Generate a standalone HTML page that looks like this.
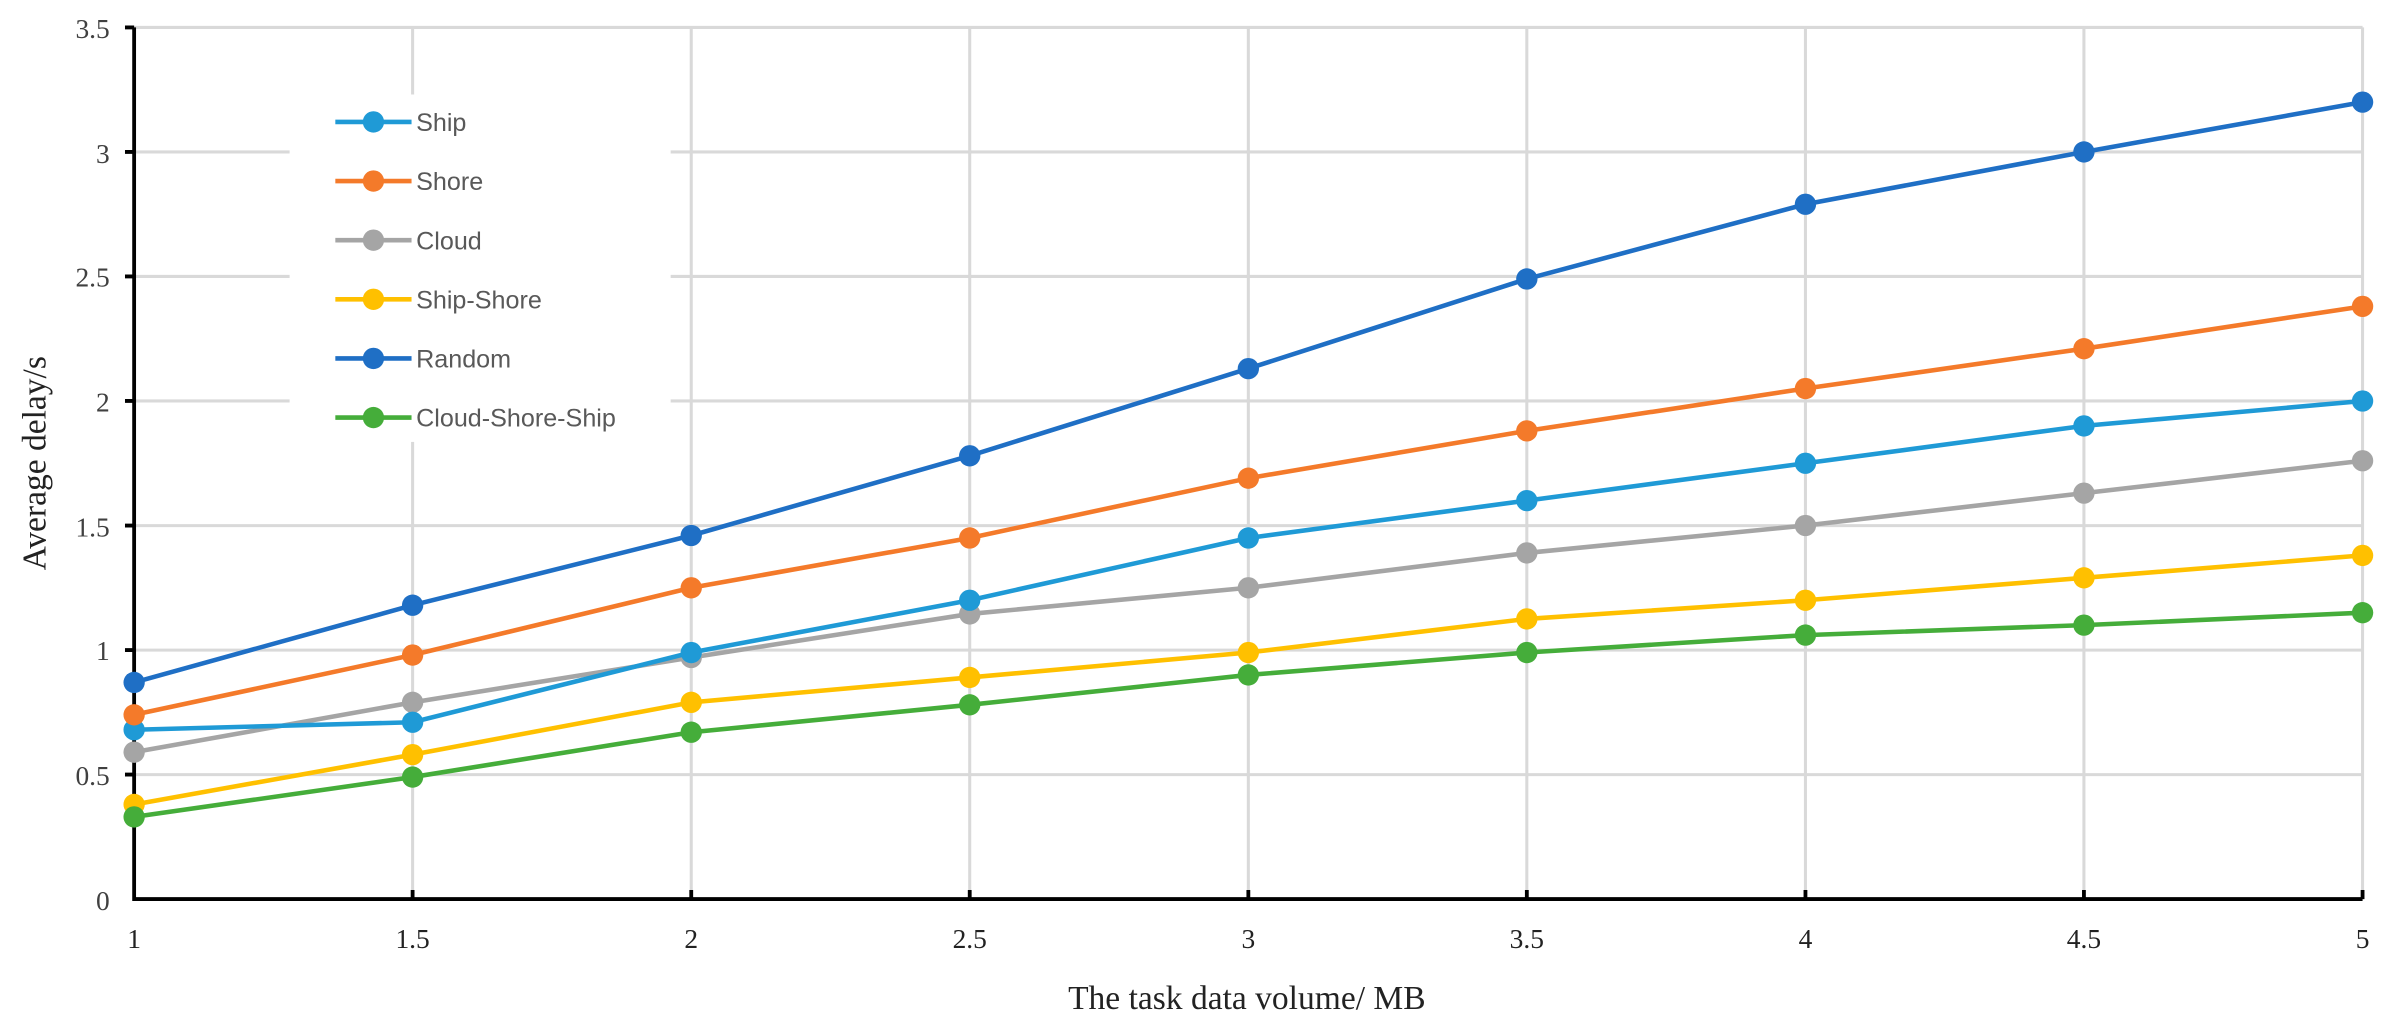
<!DOCTYPE html>
<html><head><style>html,body{margin:0;padding:0;background:#fff;}svg{display:block}</style></head>
<body>
<svg width="2390" height="1021" viewBox="0 0 1568 670" preserveAspectRatio="none" xmlns="http://www.w3.org/2000/svg">
<rect width="1568" height="670" fill="#fff"/>
<g stroke="#d9d9d9" stroke-width="2" fill="none">
<path d="M88 18H1550M88 99.7H1550M88 181.4H1550M88 263.1H1550M88 344.9H1550M88 426.6H1550M88 508.3H1550"/>
<path d="M270.7 18V590M453.5 18V590M636.2 18V590M819 18V590M1001.7 18V590M1184.5 18V590M1367.2 18V590M1550 18V590"/>
</g>
<rect x="190" y="62" width="250" height="228" fill="#fff"/>
<g stroke="#000" stroke-width="2.5" fill="none">
<path d="M88 18V590H1550"/>
<path d="M82 18H88M82 99.7H88M82 181.4H88M82 263.1H88M82 344.9H88M82 426.6H88M82 508.3H88"/>
<path d="M270.7 590V584M453.5 590V584M636.2 590V584M819 590V584M1001.7 590V584M1184.5 590V584M1367.2 590V584M1550 590V584"/>
</g>
<g font-family="Liberation Serif, serif" font-size="18" fill="#404040" text-anchor="end">
<text x="72" y="597">0</text><text x="72" y="515">0.5</text><text x="72" y="433">1</text><text x="72" y="352">1.5</text><text x="72" y="270">2</text><text x="72" y="188">2.5</text><text x="72" y="107">3</text><text x="72" y="25">3.5</text>
</g>
<g font-family="Liberation Serif, serif" font-size="18" fill="#222" text-anchor="middle">
<text x="88" y="622">1</text><text x="270.7" y="622">1.5</text><text x="453.5" y="622">2</text><text x="636.2" y="622">2.5</text><text x="819" y="622">3</text><text x="1001.7" y="622">3.5</text><text x="1184.5" y="622">4</text><text x="1367.2" y="622">4.5</text><text x="1550" y="622">5</text>
</g>
<text x="818" y="662" font-family="Liberation Serif, serif" font-size="22" text-anchor="middle" fill="#222">The task data volume/ MB</text>
<text transform="translate(30,304) rotate(-90)" font-family="Liberation Serif, serif" font-size="22" text-anchor="middle" fill="#222">Average delay/s</text>
<g id="series" stroke-width="3" fill="none"></g>
<g id="legend" font-family="Liberation Sans, sans-serif" font-size="16.5" fill="#595959"></g>
<script>
var xs=[88,270.7,453.5,636.2,819,1001.7,1184.5,1367.2,1550];
function Y(v){return 590-v*163.43;}
var S=[
["Ship","#1f9ad6",[0.68,0.71,0.99,1.2,1.45,1.6,1.75,1.9,2.0]],
["Shore","#f47a2a",[0.74,0.98,1.25,1.45,1.69,1.88,2.05,2.21,2.38]],
["Cloud","#a5a5a5",[0.59,0.79,0.97,1.145,1.25,1.39,1.5,1.63,1.76]],
["Ship-Shore","#ffc000",[0.38,0.58,0.79,0.89,0.99,1.125,1.2,1.29,1.38]],
["Random","#1f6fc5",[0.87,1.18,1.46,1.78,2.13,2.49,2.79,3.0,3.2]],
["Cloud-Shore-Ship","#45ad3a",[0.33,0.49,0.67,0.78,0.9,0.99,1.06,1.1,1.15]]];
var ns="http://www.w3.org/2000/svg",g=document.getElementById("series"),lg=document.getElementById("legend");
var order=[2,0,1,3,5,4];
order.forEach(function(i){var s=S[i];var d="";s[2].forEach(function(v,j){d+=(j?"L":"M")+xs[j]+" "+Y(v);});
var p=document.createElementNS(ns,"path");p.setAttribute("d",d);p.setAttribute("stroke",s[1]);g.appendChild(p);
s[2].forEach(function(v,j){var c=document.createElementNS(ns,"circle");c.setAttribute("cx",xs[j]);c.setAttribute("cy",Y(v));c.setAttribute("r",7);c.setAttribute("fill",s[1]);c.setAttribute("stroke","none");g.appendChild(c);});});
S.forEach(function(s,i){var y=80+i*38.8;
var l=document.createElementNS(ns,"path");l.setAttribute("d","M220 "+y+"H270");l.setAttribute("stroke",s[1]);l.setAttribute("stroke-width",3);lg.appendChild(l);
var c=document.createElementNS(ns,"circle");c.setAttribute("cx",245);c.setAttribute("cy",y);c.setAttribute("r",7);c.setAttribute("fill",s[1]);lg.appendChild(c);
var t=document.createElementNS(ns,"text");t.setAttribute("x",273);t.setAttribute("y",y+6);t.textContent=s[0];lg.appendChild(t);});
</script>
</svg>
</body></html>
